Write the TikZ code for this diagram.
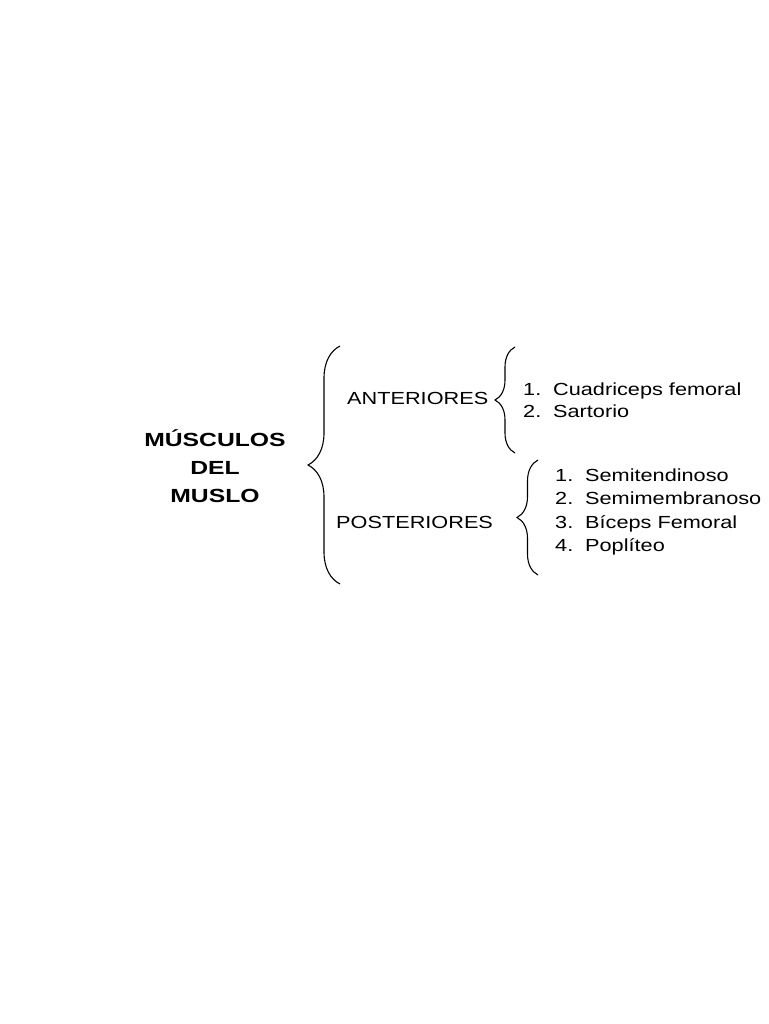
\documentclass[tikz,border=0pt]{standalone}
\usepackage{fontspec}
\usetikzlibrary{decorations.pathreplacing}
\newfontfamily\listfont[FakeStretch=1.24]{Liberation Sans}
\newfontfamily\headfont[FakeStretch=1.3]{Liberation Sans}

\begin{document}
\begin{tikzpicture}[x=1pt,y=-1pt,
        every node/.style={inner sep=0pt,anchor=base west},
        headline/.style={anchor=base,font=\headfont\bfseries\fontsize{19}{23}\selectfont},
        branch/.style={font=\listfont\fontsize{17.5}{21}\selectfont},
        entry/.style={font=\listfont\fontsize{17.5}{21}\selectfont},
        curly/.style={decorate,line width=1.1pt,decoration={brace,amplitude=#1}}]
    \useasboundingbox (0,0) rectangle (768,1024);

    \foreach \w/\y [count=\i] in {MÚSCULOS/446,DEL/474,MUSLO/502}{
        \node[headline] (head\i) at (215,\y) {\w};
    }

    \node[branch] (ant) at (347,404) {ANTERIORES};
    \node[branch] (post) at (336,528) {POSTERIORES};

    \foreach \t [count=\i] in {Cuadriceps femoral,Sartorio}{
        \node[entry] (ant\i) at (523,373+22*\i) {\makebox[30pt][l]{\i.}\t};
    }
    \foreach \t [count=\i] in {Semitendinoso,Semimembranoso,Bíceps Femoral,Poplíteo}{
        \node[entry] (post\i) at (555,457.5+23.5*\i) {\makebox[30pt][l]{\i.}\t};
    }

    \coordinate (mainbot) at (340,584);
    \coordinate (maintop) at (340,346);
    \coordinate (antbot) at (515,453);
    \coordinate (anttop) at (515,347);
    \coordinate (postbot) at (538,575);
    \coordinate (posttop) at (538,460);

    \draw[curly=32pt] (mainbot) -- (maintop);
    \draw[curly=20pt] (antbot) -- (anttop);
    \draw[curly=21pt] (postbot) -- (posttop);
\end{tikzpicture}
\end{document}
